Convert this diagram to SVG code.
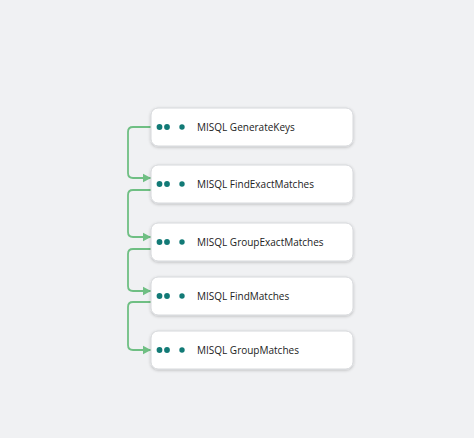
<svg xmlns="http://www.w3.org/2000/svg" width="474" height="438" viewBox="0 0 474 438">
<defs>
<filter id="sh" x="-10%" y="-30%" width="120%" height="160%">
<feDropShadow dx="0" dy="1" stdDeviation="1.5" flood-color="#000" flood-opacity="0.22"/>
</filter>
<marker id="ah" markerWidth="10" markerHeight="10" refX="8" refY="5" orient="auto" markerUnits="userSpaceOnUse">
<path d="M0,0.8 L8,5 L0,9.2 Z" fill="#6fbf83"/>
</marker>
<style>
.box{fill:#fff;stroke:#d6d8db;stroke-width:1;filter:url(#sh)}
.dot{fill:#127a76}
.lbl{font-family:"Open Sans","Noto Sans",sans-serif;font-size:10px;fill:#222}
.c{fill:none;stroke:#6fbf83;stroke-width:1.8}
</style>
</defs>
<rect width="474" height="438" fill="#f0f1f3"/>
<g id="connectors">
<path class="c" d="M152,127 H133 Q128,127 128,132 V173 Q128,178 133,178 H151" marker-end="url(#ah)"/>
<path class="c" d="M152,190 H133 Q128,190 128,195 V232 Q128,237 133,237 H151" marker-end="url(#ah)"/>
<path class="c" d="M152,249 H133 Q128,249 128,254 V286 Q128,291 133,291 H151" marker-end="url(#ah)"/>
<path class="c" d="M152,302 H133 Q128,302 128,307 V345 Q128,350 133,350 H151" marker-end="url(#ah)"/>
</g>
<g id="n1">
<rect class="box" x="151" y="108" width="202" height="38" rx="7"/>
<circle class="dot" cx="159.5" cy="127" r="2.9"/><circle class="dot" cx="167" cy="127" r="2.9"/><circle class="dot" cx="182" cy="127" r="2.7"/>
<text class="lbl" x="197" y="130.5">MISQL GenerateKeys</text>
</g>
<g id="n2">
<rect class="box" x="151" y="165" width="202" height="38" rx="7"/>
<circle class="dot" cx="159.5" cy="184" r="2.9"/><circle class="dot" cx="167" cy="184" r="2.9"/><circle class="dot" cx="182" cy="184" r="2.7"/>
<text class="lbl" x="197" y="187.5">MISQL FindExactMatches</text>
</g>
<g id="n3">
<rect class="box" x="151" y="223" width="202" height="38" rx="7"/>
<circle class="dot" cx="159.5" cy="242" r="2.9"/><circle class="dot" cx="167" cy="242" r="2.9"/><circle class="dot" cx="182" cy="242" r="2.7"/>
<text class="lbl" x="197" y="245.5">MISQL GroupExactMatches</text>
</g>
<g id="n4">
<rect class="box" x="151" y="277" width="202" height="38" rx="7"/>
<circle class="dot" cx="159.5" cy="296" r="2.9"/><circle class="dot" cx="167" cy="296" r="2.9"/><circle class="dot" cx="182" cy="296" r="2.7"/>
<text class="lbl" x="197" y="299.5">MISQL FindMatches</text>
</g>
<g id="n5">
<rect class="box" x="151" y="331" width="202" height="38" rx="7"/>
<circle class="dot" cx="159.5" cy="350" r="2.9"/><circle class="dot" cx="167" cy="350" r="2.9"/><circle class="dot" cx="182" cy="350" r="2.7"/>
<text class="lbl" x="197" y="353.5">MISQL GroupMatches</text>
</g>
</svg>
